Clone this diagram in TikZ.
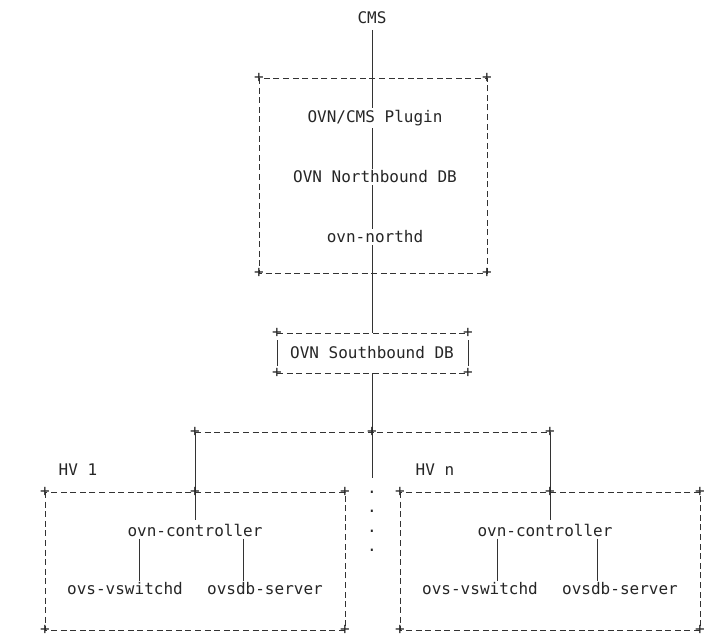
\documentclass[tikz,border=0pt]{standalone}
\usepackage{fontspec}
\setmonofont{DejaVu Sans Mono}
\begin{document}
\begin{tikzpicture}[x=0.75pt,y=-0.75pt,
  lbl/.style={font=\ttfamily\fontsize{12}{14}\selectfont, text=black!85, fill=white, inner sep=1.5pt},
  bar/.style={draw=black!80, line width=0.7pt},
  dbox/.style={draw=black!80, line width=0.7pt, dash pattern=on 4.5pt off 2.7pt},
  plus/.style={font=\ttfamily\fontsize{12}{14}\selectfont, text=black!85, inner sep=0pt}]
\useasboundingbox (0,0) rectangle (720,641);
% main column
\draw[bar] (372,30) -- (372,333);
\node[lbl] (cms) at (372,18) {CMS};
\draw[dbox] (259,78) rectangle (487,273);
\foreach \p in {(259,78),(487,78),(259,273),(487,273)} \node[plus] at \p {+};
\node[lbl] (plugin) at (375,118) {OVN/CMS Plugin};
\node[lbl] (nb) at (375,177) {OVN Northbound DB};
\node[lbl] (northd) at (375,237) {ovn-northd};
% southbound
\draw[dbox] (277,333) -- (468,333) (277,373) -- (468,373);
\draw[bar] (277,340) -- (277,366) (468,340) -- (468,366);
\foreach \p in {(277,333),(468,333),(277,373),(468,373)} \node[plus] at \p {+};
\node[lbl,fill=none] (sb) at (372,353) {OVN Southbound DB};
\draw[bar] (372,373) -- (372,478);
\draw[dbox] (195,432) -- (550,432);
\foreach \p in {(195,432),(372,432),(550,432)} \node[plus] at \p {+};
\foreach \yy in {492,511,531,550} \node[plus] at (372,\yy) {.};
% HV boxes
\draw[bar] (195,432) -- (195,520) (550,432) -- (550,520);
\draw[dbox] (45,492) rectangle (345,630);
\draw[dbox] (400,492) rectangle (700,630);
\foreach \p in {(45,492),(195,492),(345,492),(45,630),(345,630),(400,492),(550,492),(700,492),(400,630),(700,630)} \node[plus] at \p {+};
\node[lbl] (hv1) at (78,470) {HV 1};
\node[lbl] (hvn) at (435,470) {HV n};
\node[lbl] (c1) at (195,530) {ovn-controller};
\node[lbl] (v1) at (125,589) {ovs-vswitchd};
\node[lbl] (d1) at (265,589) {ovsdb-server};
\coordinate (a1) at (139,530); \coordinate (b1) at (243,530);
\draw[bar] (a1 |- c1.south) -- (a1 |- v1.north);
\draw[bar] (b1 |- c1.south) -- (b1 |- d1.north);
\node[lbl] (c2) at (545,530) {ovn-controller};
\node[lbl] (v2) at (480,589) {ovs-vswitchd};
\node[lbl] (d2) at (620,589) {ovsdb-server};
\coordinate (a2) at (497,530); \coordinate (b2) at (597,530);
\draw[bar] (a2 |- c2.south) -- (a2 |- v2.north);
\draw[bar] (b2 |- c2.south) -- (b2 |- d2.north);
\end{tikzpicture}
\end{document}
